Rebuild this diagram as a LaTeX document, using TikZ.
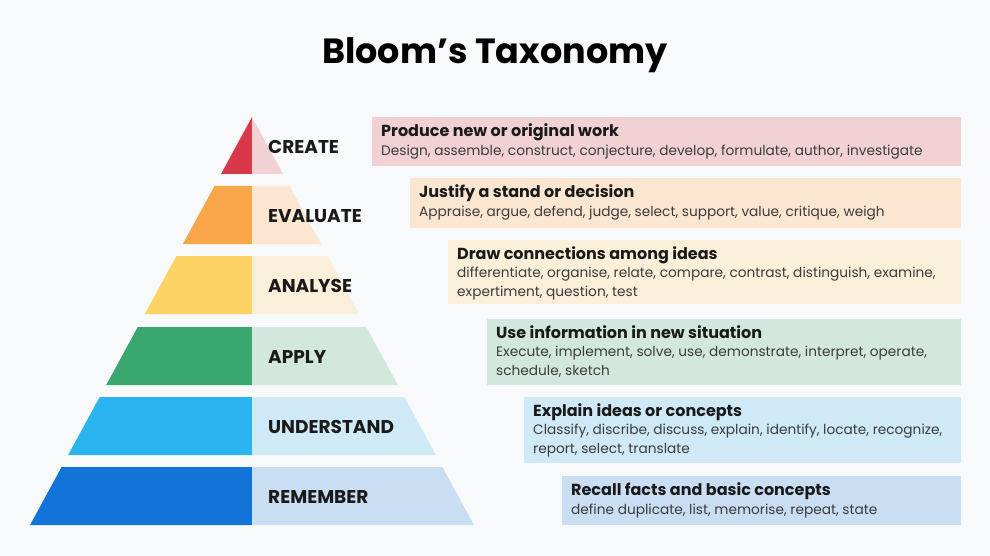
\documentclass[tikz,border=0pt]{standalone}
\usepackage{fontspec}
\setmainfont{Poppins}
\definecolor{bg}{HTML}{F8F9FB}
\definecolor{cD}{HTML}{D93848}\definecolor{cL}{HTML}{F2D1D5}
\definecolor{eD}{HTML}{F9A54A}\definecolor{eL}{HTML}{FBE6D1}
\definecolor{aD}{HTML}{FCD364}\definecolor{aL}{HTML}{FAEFD8}
\definecolor{pD}{HTML}{3AA86E}\definecolor{pL}{HTML}{D3E8DC}
\definecolor{uD}{HTML}{2BB5F0}\definecolor{uL}{HTML}{CFE9F6}
\definecolor{rD}{HTML}{1273D8}\definecolor{rL}{HTML}{C9DDF3}
\definecolor{txt}{HTML}{1A1A1A}
\begin{document}
\begin{tikzpicture}[x=1pt,y=-1pt,
  lvl/.style={anchor=west,font=\bfseries\fontsize{18.5}{20}\selectfont,text=txt,inner sep=0},
  hd/.style={anchor=north west,font=\bfseries\fontsize{16}{18}\selectfont,text=txt,inner sep=0},
  bd/.style={anchor=north west,font=\fontsize{13.7}{19}\selectfont,text=txt!85,inner sep=0,align=left}]
\fill[bg] (0,0) rectangle (990,556);
\useasboundingbox (0,0) rectangle (990,556);
\node[font=\bfseries\fontsize{35}{40}\selectfont,text=black] (title) at (495,55) {Bloom’s Taxonomy};
\def\k{0.544}
\foreach \t/\b/\dc/\lc/\lab/\nm in {117/174/cD/cL/CREATE/l1,186/244/eD/eL/EVALUATE/l2,256/314/aD/aL/ANALYSE/l3,327/385/pD/pL/APPLY/l4,397/455/uD/uL/UNDERSTAND/l5,467/525/rD/rL/REMEMBER/l6}{
  \pgfmathsetmacro\wt{\k*(\t-117)}
  \pgfmathsetmacro\wb{\k*(\b-117)}
  \fill[\dc] (252-\wt,\t) -- (252,\t) -- (252,\b) -- (252-\wb,\b) -- cycle;
  \fill[\lc] (252+\wt,\t) -- (252,\t) -- (252,\b) -- (252+\wb,\b) -- cycle;
  \node[lvl] (\nm) at (268,{(\t+\b)/2+1}) {\lab};
}
\fill[cL] (372,117) rectangle (961,166);
\node[hd] (h1) at (381,123) {Produce new or original work};
\node[bd] (b1) at (381,145) {Design, assemble, construct, conjecture, develop, formulate, author, investigate};
\fill[eL] (410,178) rectangle (961,228);
\node[hd] (h2) at (419,184) {Justify a stand or decision};
\node[bd] (b2) at (419,206) {Appraise, argue, defend, judge, select, support, value, critique, weigh};
\fill[aL] (448,240) rectangle (961,304);
\node[hd] (h3) at (457,246) {Draw connections among ideas};
\node[bd] (b3) at (457,267) {differentiate, organise, relate, compare, contrast, distinguish, examine,\\expertiment, question, test};
\fill[pL] (487,319) rectangle (961,385);
\node[hd] (h4) at (496,325) {Use information in new situation};
\node[bd] (b4) at (496,346) {Execute, implement, solve, use, demonstrate, interpret, operate,\\schedule, sketch};
\fill[uL] (524,397) rectangle (961,463);
\node[hd] (h5) at (533,403) {Explain ideas or concepts};
\node[bd] (b5) at (533,424) {Classify, discribe, discuss, explain, identify, locate, recognize,\\report, select, translate};
\fill[rL] (562,476) rectangle (961,525);
\node[hd] (h6) at (571,482) {Recall facts and basic concepts};
\node[bd] (b6) at (571,504) {define duplicate, list, memorise, repeat, state};
\end{tikzpicture}
\end{document}
